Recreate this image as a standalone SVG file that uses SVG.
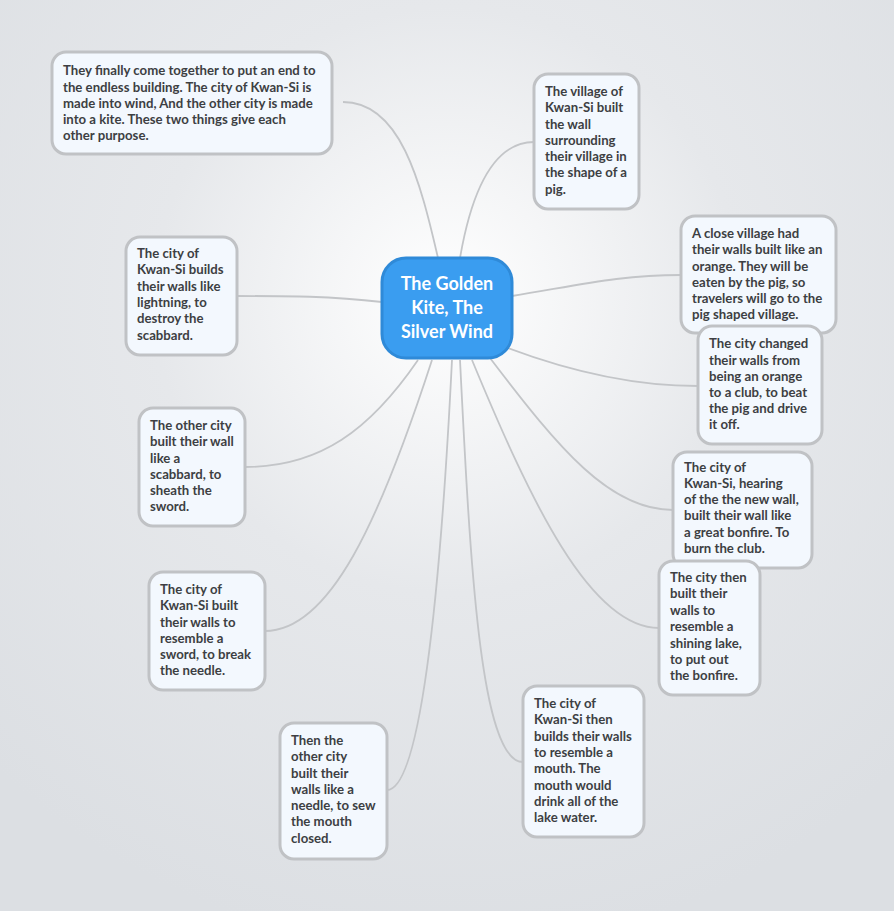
<svg xmlns="http://www.w3.org/2000/svg" width="894" height="911" viewBox="0 0 894 911">
<defs>
<radialGradient id="bg" cx="447" cy="300" r="650" gradientUnits="userSpaceOnUse">
<stop offset="0" stop-color="#ffffff"/><stop offset="0.45" stop-color="#e6e8eb"/><stop offset="1" stop-color="#dcdfe3"/>
</radialGradient>
<style>
.leaf{fill:#f3f8fe;stroke:#c0c2c5;stroke-width:3}
.t{font-family:Lato,"Liberation Sans",sans-serif;font-weight:700;font-size:13.2px;fill:#3d3f43}
.c{fill:none;stroke:#c3c5c8;stroke-width:1.8}
.ct{font-family:Lato,"Liberation Sans",sans-serif;font-weight:700;font-size:18px;fill:#fff;text-anchor:middle}
</style>
</defs>
<rect width="894" height="911" fill="url(#bg)"/>
<g id="connectors">
<path class="c" d="M438,258 C420,180 400,102 343,102"/>
<path class="c" d="M460,258 C470,200 490,142 534,142"/>
<path class="c" d="M512,296 C580,285 620,275 681,275"/>
<path class="c" d="M508,348 C580,375 640,386 698,386"/>
<path class="c" d="M490,358 C560,450 610,510 673,510"/>
<path class="c" d="M472,360 C530,500 590,628 659,628"/>
<path class="c" d="M460,360 C470,560 480,762 523,762"/>
<path class="c" d="M452,360 C440,600 420,790 387,790"/>
<path class="c" d="M432,360 C380,520 330,631 265,631"/>
<path class="c" d="M418,360 C370,430 320,467 245,467"/>
<path class="c" d="M382,302 C330,296 290,296 237,296"/>
</g>
<g id="center"><rect x="382" y="258" width="130" height="100" rx="24" fill="#3a9df0" stroke="#2f8ad8" stroke-width="3"/>
<text class="ct"><tspan x="447" y="290">The Golden</tspan><tspan x="447" y="314">Kite, The</tspan><tspan x="447" y="338">Silver Wind</tspan></text></g>
<g id="n1"><rect class="leaf" x="52" y="52" width="280" height="102" rx="14"/>
<text class="t"><tspan x="63" y="75">They finally come together to put an end to</tspan><tspan x="63" y="91.5">the endless building. The city of Kwan-Si is</tspan><tspan x="63" y="107.5">made into wind, And the other city is made</tspan><tspan x="63" y="123.5">into a kite. These two things give each</tspan><tspan x="63" y="139.5">other purpose.</tspan></text></g>
<g id="n2"><rect class="leaf" x="534" y="74" width="105" height="135" rx="14"/>
<text class="t"><tspan x="545" y="96">The village of</tspan><tspan x="545" y="112">Kwan-Si built</tspan><tspan x="545" y="129">the wall</tspan><tspan x="545" y="145">surrounding</tspan><tspan x="545" y="161">their village in</tspan><tspan x="545" y="177">the shape of a</tspan><tspan x="545" y="194">pig.</tspan></text></g>
<g id="n3"><rect class="leaf" x="681" y="216" width="155" height="117" rx="14"/>
<text class="t"><tspan x="692" y="238">A close village had</tspan><tspan x="692" y="254">their walls built like an</tspan><tspan x="692" y="271">orange. They will be</tspan><tspan x="692" y="287">eaten by the pig, so</tspan><tspan x="692" y="303">travelers will go to the</tspan><tspan x="692" y="319">pig shaped village.</tspan></text></g>
<g id="n4"><rect class="leaf" x="698" y="326" width="124" height="118" rx="14"/>
<text class="t"><tspan x="709" y="348">The city changed</tspan><tspan x="709" y="365">their walls from</tspan><tspan x="709" y="381">being an orange</tspan><tspan x="709" y="397">to a club, to beat</tspan><tspan x="709" y="413">the pig and drive</tspan><tspan x="709" y="429">it off.</tspan></text></g>
<g id="n5"><rect class="leaf" x="673" y="452" width="139" height="116" rx="14"/>
<text class="t"><tspan x="684" y="472">The city of</tspan><tspan x="684" y="488">Kwan-Si, hearing</tspan><tspan x="684" y="504">of the the new wall,</tspan><tspan x="684" y="520">built their wall like</tspan><tspan x="684" y="537">a great bonfire. To</tspan><tspan x="684" y="553">burn the club.</tspan></text></g>
<g id="n6"><rect class="leaf" x="659" y="561" width="101" height="134" rx="14"/>
<text class="t"><tspan x="670" y="582">The city then</tspan><tspan x="670" y="598">built their</tspan><tspan x="670" y="615">walls to</tspan><tspan x="670" y="631">resemble a</tspan><tspan x="670" y="648">shining lake,</tspan><tspan x="670" y="664">to put out</tspan><tspan x="670" y="680">the bonfire.</tspan></text></g>
<g id="n7"><rect class="leaf" x="523" y="686" width="121" height="151" rx="14"/>
<text class="t"><tspan x="534" y="708">The city of</tspan><tspan x="534" y="724">Kwan-Si then</tspan><tspan x="534" y="741">builds their walls</tspan><tspan x="534" y="757">to resemble a</tspan><tspan x="534" y="773">mouth. The</tspan><tspan x="534" y="790">mouth would</tspan><tspan x="534" y="806">drink all of the</tspan><tspan x="534" y="822">lake water.</tspan></text></g>
<g id="n8"><rect class="leaf" x="280" y="723" width="107" height="136" rx="14"/>
<text class="t"><tspan x="291" y="745">Then the</tspan><tspan x="291" y="761">other city</tspan><tspan x="291" y="778">built their</tspan><tspan x="291" y="794">walls like a</tspan><tspan x="291" y="810">needle, to sew</tspan><tspan x="291" y="826">the mouth</tspan><tspan x="291" y="843">closed.</tspan></text></g>
<g id="n9"><rect class="leaf" x="149" y="572" width="116" height="118" rx="14"/>
<text class="t"><tspan x="160" y="594">The city of</tspan><tspan x="160" y="610">Kwan-Si built</tspan><tspan x="160" y="627">their walls to</tspan><tspan x="160" y="643">resemble a</tspan><tspan x="160" y="659">sword, to break</tspan><tspan x="160" y="675">the needle.</tspan></text></g>
<g id="n10"><rect class="leaf" x="139" y="408" width="106" height="118" rx="14"/>
<text class="t"><tspan x="150" y="430">The other city</tspan><tspan x="150" y="446">built their wall</tspan><tspan x="150" y="463">like a</tspan><tspan x="150" y="479">scabbard, to</tspan><tspan x="150" y="495">sheath the</tspan><tspan x="150" y="511">sword.</tspan></text></g>
<g id="n11"><rect class="leaf" x="126" y="237" width="111" height="118" rx="14"/>
<text class="t"><tspan x="137" y="258">The city of</tspan><tspan x="137" y="274">Kwan-Si builds</tspan><tspan x="137" y="291">their walls like</tspan><tspan x="137" y="307">lightning, to</tspan><tspan x="137" y="323">destroy the</tspan><tspan x="137" y="340">scabbard.</tspan></text></g>
</svg>
